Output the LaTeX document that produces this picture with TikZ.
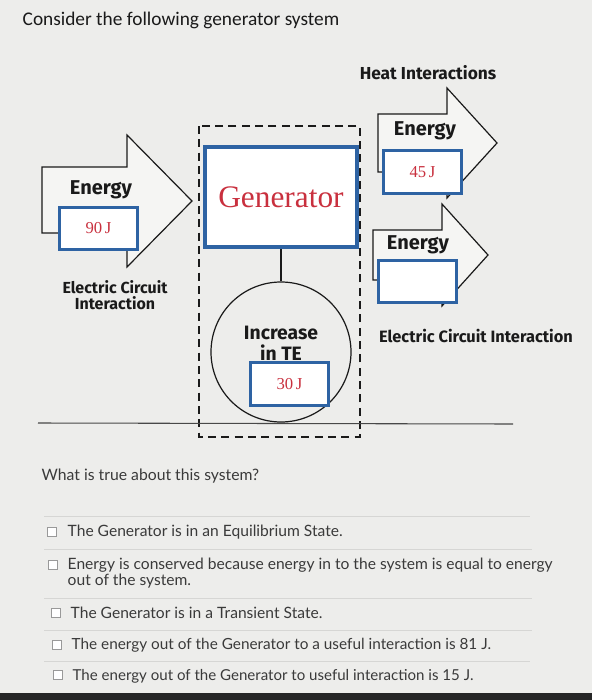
\documentclass[tikz,border=0pt]{standalone}
\usepackage{fontspec}
\setmainfont{Lato}
\newfontfamily\calibrifont{Carlito}
\newfontfamily\comicfont{Fira Sans}
\newfontfamily\cambriafont{Liberation Serif}
\usetikzlibrary{shadows}
\definecolor{GenPaper}{HTML}{EDEDEB}
\definecolor{GenFill}{HTML}{F5F5F3}
\definecolor{GenBlue}{HTML}{2E63A3}
\definecolor{GenRed}{HTML}{C9303E}
\definecolor{GenInk}{HTML}{1A1A1A}
\definecolor{GenText}{HTML}{3A3A3A}
\definecolor{GenRule}{HTML}{D6D6D4}

\begin{document}
\begin{tikzpicture}[x=0.75pt,y=-0.75pt,
  flow/.style={draw=GenInk,fill=GenFill,line width=0.9pt,line join=miter},
  valbox/.style={draw=GenBlue,fill=white,line width=2.2pt,minimum width=59pt,
    minimum height=32pt,inner sep=0pt,text=GenRed,
    font=\cambriafont\fontsize{12.5}{14}\selectfont,
    drop shadow={shadow xshift=0.8pt,shadow yshift=-0.8pt,opacity=0.35}},
  genbox/.style={draw=GenBlue,fill=white,line width=3pt,minimum width=114pt,
    minimum height=75pt,inner sep=0pt,text=GenRed,
    font=\cambriafont\fontsize{23.5}{26}\selectfont,
    drop shadow={shadow xshift=1pt,shadow yshift=-1pt,opacity=0.4}},
  tebubble/.style={circle,draw=GenInk,fill=GenPaper,line width=0.9pt,
    minimum size=105pt,inner sep=0pt},
  hand/.style={font=\comicfont\bfseries\fontsize{15}{17}\selectfont,text=GenInk},
  smallhand/.style={font=\comicfont\bfseries\fontsize{12.3}{13}\selectfont,
    text=GenInk,align=center},
  boundary/.style={draw=GenInk,line width=1pt,dash pattern=on 6pt off 4pt},
  tick/.style={draw=gray!80,fill=white,line width=0.5pt,minimum size=6.5pt,inner sep=0pt},
  answer/.style={anchor=west,align=left,text=GenText,
    font=\fontsize{11.7}{12.5}\selectfont},
  rule/.style={draw=GenRule,line width=0.6pt}
]
\useasboundingbox[fill=GenPaper] (0,0) rectangle (592,700);
\fill[black!85] (0,693) rectangle (592,700);

% heading
\node[anchor=west,text=GenInk,font=\calibrifont\fontsize{14.5}{16}\selectfont]
  (title) at (18,20) {Consider the following generator system};
\node[smallhand,font=\comicfont\bfseries\fontsize{13}{15}\selectfont]
  (heat) at (428,73) {Heat Interactions};

% energy arrows
\draw[flow] (42,167) -- (127,167) -- (127,135) -- (192,201) -- (127,267)
  -- (127,233) -- (42,233) -- cycle;
\draw[flow] (378,114) -- (447,114) -- (447,88) -- (497,143) -- (447,198)
  -- (447,172) -- (378,172) -- cycle;
\draw[flow] (373,230) -- (442,230) -- (442,204) -- (488,255) -- (442,306)
  -- (442,280) -- (373,280) -- cycle;

\node[hand] (inlabel) at (101,190) {Energy};
\node[valbox] (inval) at (98.5,228.5) {90\,J};
\node[hand] (heatlabel) at (425,131) {Energy};
\node[valbox] (heatval) at (422.5,172) {45\,J};
\node[hand] (outlabel) at (418,245) {Energy};
\node[valbox] (outval) at (417.5,281.5) {};

\node[smallhand,font=\comicfont\bfseries\fontsize{12}{12.5}\selectfont]
  (inside) at (115,295) {Electric Circuit\\Interaction};
\node[smallhand] (outside) at (476,336) {Electric Circuit Interaction};

% system
\draw[boundary] (199,126) rectangle (360,437);
\draw[GenInk!80,line width=0.8pt] (38,423) -- (513,424);
\node[genbox] (gen) at (281,197) {Generator};
\node[tebubble] (te) at (281,352) {};
\draw[GenInk,line width=0.9pt] (gen.south) -- (te.north);
\node[smallhand,font=\comicfont\bfseries\fontsize{14.5}{16}\selectfont]
  (rise) at (281,343) {Increase\\in TE};
\node[valbox] (teval) at (289.5,384) {30\,J};

% question
\node[anchor=west,text=GenText,font=\fontsize{11.8}{13}\selectfont]
  (ask) at (37,476) {What is true about this system?};
\draw[rule] (44,516) -- (530,516);
\draw[rule] (44,549) -- (532,549);
\draw[rule] (44,598) -- (532,598);
\draw[rule] (44,630) -- (532,630);
\draw[rule] (44,661) -- (530,661);

\node[tick] (box1) at (52,532) {};
\node[answer] (opt1) at (63,532) {The Generator is in an Equilibrium State.};
\node[tick] (box2) at (53,565) {};
\node[answer] (opt2) at (63,573) {Energy is conserved because energy in to the system is equal to energy\\out of the system.};
\node[tick] (box3) at (56,613) {};
\node[answer] (opt3) at (66,613) {The Generator is in a Transient State.};
\node[tick] (box4) at (57,645) {};
\node[answer,font=\fontsize{11.5}{12.5}\selectfont] (opt4) at (67,645) {The energy out of the Generator to a useful interaction is 81 J.};
\node[tick] (box5) at (58,675) {};
\node[answer,font=\fontsize{11.3}{12.5}\selectfont] (opt5) at (68,676) {The energy out of the Generator to useful interaction is 15 J.};
\end{tikzpicture}
\end{document}
